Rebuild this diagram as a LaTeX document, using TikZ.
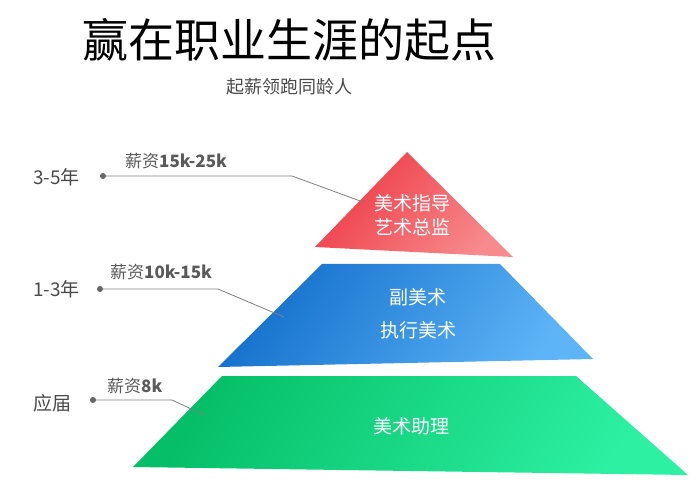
\documentclass[tikz,border=0pt]{standalone}
\usepackage{fontspec}
\setmainfont{Noto Sans CJK SC}
\usetikzlibrary{positioning}

\definecolor{redA}{HTML}{EF3A45}
\definecolor{redB}{HTML}{F68A8C}
\definecolor{blueA}{HTML}{1470CC}
\definecolor{blueB}{HTML}{5DB4F6}
\definecolor{greenA}{HTML}{05BF68}
\definecolor{greenB}{HTML}{2DF0A2}
\definecolor{yrgray}{HTML}{4A4A4A}
\definecolor{paygray}{HTML}{5A5A5A}
\definecolor{dotgray}{HTML}{666666}
\definecolor{linegray}{HTML}{808080}

\tikzstyle{txt} = [text centered, inner sep=0pt]
\tikzstyle{yr} = [txt, anchor=west, text=yrgray, font=\fontsize{19}{19}\selectfont]
\tikzstyle{pay} = [txt, anchor=west, text=paygray, font=\fontsize{17}{17}\selectfont]
\tikzstyle{lvl} = [txt, text=white, font=\fontsize{19}{19}\selectfont]
\tikzstyle{dot} = [circle, fill=dotgray, inner sep=0pt, minimum size=6pt]
\tikzstyle{lead} = [draw=linegray, line width=0.8pt]

\begin{document}
\begin{tikzpicture}[x=1pt, y=-1pt,
font=\footnotesize,
]
\useasboundingbox (0,0) rectangle (699,489);

% Title
\node[txt, font=\fontsize{46}{46}\selectfont] (title) at (289,40) {赢在职业生涯的起点};
\node[txt, text=yrgray, font=\fontsize{18}{18}\selectfont] (sub) at (289,87) {起薪领跑同龄人};

%TOP
\shade[top color=redA, bottom color=redB, shading angle=50] (407,152) -- (513,257) -- (315,247) -- cycle;
\node[lvl] (top1) at (412,203) {美术指导};
\node[lvl] (top2) at (412,227) {艺术总监};

%MIDDLE
\shade[top color=blueA, bottom color=blueB, shading angle=55] (322,264) -- (500,264) -- (593,359) -- (218,367) -- cycle;
\node[lvl] (mid1) at (418,297) {副美术};
\node[lvl] (mid2) at (418,330) {执行美术};

%BOTTOM
\shade[top color=greenA, bottom color=greenB, shading angle=60] (222,376) -- (576,376) -- (688,475) -- (133,467) -- cycle;
\node[lvl] (bot1) at (411,426) {美术助理};

% labels on the left
\node[yr] (y1) at (33,177) {3-5年};
\node[dot] (d1) at (103,176) {};
\node[pay] (p1) at (125,161) {薪资\textbf{15k-25k}};
\coordinate (b1) at (292,176);
\coordinate (e1) at (363,202);

\node[yr] (y2) at (33,289) {1-3年};
\node[dot] (d2) at (100,289) {};
\node[pay] (p2) at (110,272) {薪资\textbf{10k-15k}};
\coordinate (b2) at (218,289);
\coordinate (e2) at (284,317);

\node[yr] (y3) at (33,403) {应届};
\node[dot] (d3) at (93,400) {};
\node[pay] (p3) at (107,386) {薪资\textbf{8k}};
\coordinate (b3) at (172,400);
\coordinate (e3) at (204,415);

\draw[lead] (d1) -- (b1) -- (e1);
\draw[lead] (d2) -- (b2) -- (e2);
\draw[lead] (d3) -- (b3) -- (e3);

\end{tikzpicture}
\end{document}
